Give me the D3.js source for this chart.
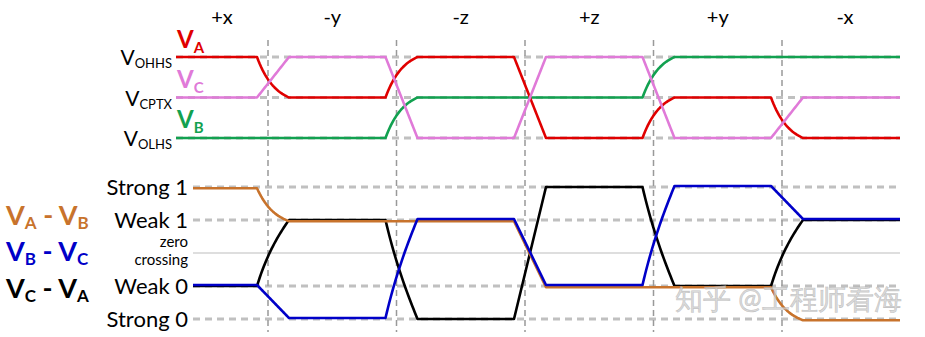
<!DOCTYPE html>
<html>
<head>
<meta charset="utf-8">
<script src="https://cdn.jsdelivr.net/npm/d3@7"></script>
<style>
    body { margin: 0; background: #fff; }
    text { font-family: Lato, "Open Sans", sans-serif; }
</style>
</head>
<body>
<script>
// 数据源
const segments = ['+x', '-y', '-z', '+z', '+y', '-x'];
// 单端电平: 1 = VOHHS, 0 = VCPTX, -1 = VOLHS
const levelValues = [1, 0, -1];
const levelNames = ['OHHS', 'CPTX', 'OLHS'];
const signalA = [1, 0, 1, -1, 0, -1];
const signalB = [-1, -1, 0, 0, 1, 1];
const signalC = [0, 1, -1, 1, -1, 0];
// 差分电平
const diffValues = [2, 1, -1, -2];
const diffNames = ['Strong 1', 'Weak 1', 'Weak 0', 'Strong 0'];

// 布局数据
const width = 925;
const height = 337;
const colors = {
    A: '#e00000',
    B: '#12a150',
    C: '#e07ad8',
    AB: '#c8732c',
    BC: '#0000c8',
    CA: '#000000'
};

const svg = d3.select('body')
    .append('svg')
    .attr('width', width)
    .attr('height', height);

// 时间轴: 边界在 t = 1..5
const xScale = d3.scaleLinear().domain([0, 6]).range([139.5, 910.5]);
const yTop = d3.scaleLinear().domain([-1, 1]).range([138, 57]);
const yBottom = d3.scaleLinear().domain([-2, 2]).range([319, 187]);

const tStartTop = xScale.invert(176);
const tStartBottom = xScale.invert(193);
const tEnd = xScale.invert(900);
const tBefore = 11 / 128.5;
const tAfter = 21 / 128.5;

const linear = s => s;
const rc = s => (1 - Math.exp(-1.8 * s)) / (1 - Math.exp(-1.8));

// 经过中间电平的跳变用 RC 曲线, 满摆幅跳变用直线
function wave(levels, curved) {
    const pts = [[tStartTop, levels[0]]];
    for (let k = 1; k < levels.length; k++) {
        const a = levels[k - 1];
        const b = levels[k];
        const shape = curved && (a === 0 || b === 0) ? rc : linear;
        const ts = k - tBefore;
        const te = k + tAfter;
        const n = 24;
        for (let i = 0; i <= n; i++) {
            const s = i / n;
            pts.push([ts + s * (te - ts), a + (b - a) * shape(s)]);
        }
    }
    pts.push([tEnd, levels[levels.length - 1]]);
    return pts;
}

const waveA = wave(signalA, true);
const waveB = wave(signalB, true);
const waveC = wave(signalC, false);

function diff(p, q) {
    const out = p.map((d, i) => [d[0], d[1] - q[i][1]]);
    out[0][0] = tStartBottom;
    return out;
}

const waveAB = diff(waveA, waveB);
const waveBC = diff(waveB, waveC);
const waveCA = diff(waveC, waveA);

const grid = svg.append('g');

// 顶部虚线电平
grid.selectAll('.lvl-top')
    .data(levelValues)
    .enter()
    .append('line')
    .attr('x1', xScale(tStartTop))
    .attr('x2', xScale(tEnd))
    .attr('y1', d => yTop(d))
    .attr('y2', d => yTop(d))
    .attr('stroke', '#c0c0c0')
    .attr('stroke-width', 3)
    .attr('stroke-dasharray', '7,5');

// 底部虚线电平
grid.selectAll('.lvl-bot')
    .data(diffValues)
    .enter()
    .append('line')
    .attr('x1', xScale(tStartBottom))
    .attr('x2', xScale(tEnd))
    .attr('y1', d => yBottom(d))
    .attr('y2', d => yBottom(d))
    .attr('stroke', '#c0c0c0')
    .attr('stroke-width', 3)
    .attr('stroke-dasharray', '7,5');

grid.append('line')
    .attr('x1', xScale(tStartBottom))
    .attr('x2', xScale(tEnd))
    .attr('y1', yBottom(0))
    .attr('y2', yBottom(0))
    .attr('stroke', '#bdbdbd')
    .attr('stroke-width', 1.2);

// 竖直分隔线
grid.selectAll('.vline')
    .data(d3.range(1, segments.length))
    .enter()
    .append('line')
    .attr('x1', d => xScale(d))
    .attr('x2', d => xScale(d))
    .attr('y1', 40)
    .attr('y2', 332)
    .attr('stroke', '#999')
    .attr('stroke-width', 1.5)
    .attr('stroke-dasharray', '6,4');

// 符号标签
svg.selectAll('.seg')
    .data(segments)
    .enter()
    .append('text')
    .attr('x', (d, i) => {
        const a = Math.max(i, tStartTop);
        const b = Math.min(i + 1, tEnd);
        return xScale((a + b) / 2) + (i === segments.length - 1 ? 4 : 0);
    })
    .attr('y', 24)
    .attr('text-anchor', 'middle')
    .attr('font-size', 20)
    .text(d => d);

const lineTop = d3.line().x(d => xScale(d[0])).y(d => yTop(d[1]));

function drawBottom(data, color, shift) {
    svg.append('path')
        .attr('d', d3.line().x(d => xScale(d[0])).y(d => yBottom(d[1]) + shift)(data))
        .attr('fill', 'none')
        .attr('stroke', color)
        .attr('stroke-width', 2.6)
        .attr('stroke-linejoin', 'round');
}

[[waveB, colors.B], [waveA, colors.A], [waveC, colors.C]].forEach(([data, color]) => {
    svg.append('path')
        .attr('d', lineTop(data))
        .attr('fill', 'none')
        .attr('stroke', color)
        .attr('stroke-width', 2.6)
        .attr('stroke-linejoin', 'round');
});

drawBottom(waveCA, colors.CA, 0);
drawBottom(waveAB, colors.AB, 1.2);
drawBottom(waveBC, colors.BC, -1);

// 左侧电平标签 (顶部)
levelValues.forEach((v, i) => {
    const t = svg.append('text')
        .attr('x', 172)
        .attr('y', yTop(v) + 8)
        .attr('text-anchor', 'end')
        .attr('font-size', 21);
    t.append('tspan').text('V');
    t.append('tspan').attr('dy', 3).attr('font-size', 13).text(levelNames[i]);
});

// 信号名
[['A', colors.A, 48], ['C', colors.C, 88], ['B', colors.B, 128]].forEach(([n, color, y]) => {
    const t = svg.append('text')
        .attr('x', 177)
        .attr('y', y)
        .attr('fill', color)
        .attr('font-weight', 'bold')
        .attr('font-size', 24);
    t.append('tspan').text('V');
    t.append('tspan').attr('dy', 5).attr('font-size', 15).text(n);
});

// 差分电平标签
diffValues.forEach((v, i) => {
    svg.append('text')
        .attr('x', 188)
        .attr('y', yBottom(v) + 8)
        .attr('text-anchor', 'end')
        .attr('font-size', 22)
        .text(diffNames[i]);
});

svg.append('text')
    .attr('x', 188)
    .attr('y', 247)
    .attr('text-anchor', 'end')
    .attr('font-size', 15)
    .text('zero');
svg.append('text')
    .attr('x', 188)
    .attr('y', 265)
    .attr('text-anchor', 'end')
    .attr('font-size', 15)
    .text('crossing');

// 差分图例
[['A', 'B', colors.AB, 225], ['B', 'C', colors.BC, 261], ['C', 'A', colors.CA, 298]].forEach(([p, q, color, y]) => {
    const t = svg.append('text')
        .attr('x', 6)
        .attr('y', y)
        .attr('fill', color)
        .attr('font-weight', 'bold')
        .attr('font-size', 27);
    t.append('tspan').text('V');
    t.append('tspan').attr('dy', 4).attr('font-size', 17).text(p);
    t.append('tspan').attr('dy', -4).text(' - V');
    t.append('tspan').attr('dy', 4).attr('font-size', 17).text(q);
});

// 水印
svg.append('text')
    .attr('x', 675)
    .attr('y', 309)
    .attr('font-family', '"Noto Sans CJK SC", sans-serif')
    .attr('font-size', 28)
    .attr('fill', '#d0d0d0')
    .attr('fill-opacity', 0.75)
    .attr('stroke', '#a8a8a8')
    .attr('stroke-width', 0.6)
    .attr('stroke-opacity', 0.6)
    .text('知乎 @工程师看海');
</script>
</body>
</html>
